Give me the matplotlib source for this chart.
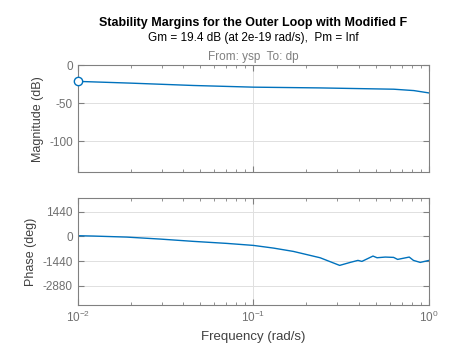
import numpy as np
import matplotlib.pyplot as plt
from matplotlib.ticker import LogLocator, NullFormatter

plt.rcParams['font.family'] = ['Liberation Sans', 'DejaVu Sans']
plt.rcParams['axes.unicode_minus'] = False

# magnitude response (dB)
w_mag = [0.01, 0.02, 0.0456, 0.1, 0.24, 0.63, 0.82, 1.0]
mag_db = [-21.4, -23.7, -26.8, -29.0, -30.0, -31.7, -33.5, -36.6]

# phase response (deg)
w_ph = [0.01, 0.0123, 0.019, 0.0294, 0.0456, 0.0706, 0.1, 0.13, 0.169, 0.24,
        0.31, 0.356, 0.394, 0.415, 0.48, 0.506, 0.564, 0.629, 0.663, 0.772,
        0.816, 0.892, 1.0]
phase = [40, 20, -40, -155, -290, -408, -525, -680, -875, -1245,
         -1690, -1516, -1399, -1457, -1146, -1244, -1205, -1224, -1341, -1205,
         -1399, -1516, -1399]

# gain margin point
gm_w = 0.01
gm_db = -21.4

blue = '#0072BD'
axc = '#808080'

fig = plt.figure(figsize=(4.74, 3.55), dpi=100)
ax1 = fig.add_axes([0.164, 0.5146, 0.741, 0.302])
ax2 = fig.add_axes([0.164, 0.1408, 0.741, 0.302])

ax1.semilogx(w_mag, mag_db, color=blue, lw=1)
ax1.plot(gm_w, gm_db, 'o', ms=6, mfc='white', mec=blue, mew=1, clip_on=False, zorder=5)
ax1.set_ylim(-141, 0)
ax1.set_yticks([0, -50, -100])
ax1.set_ylabel('Magnitude (dB)', color='#404040', fontsize=9)

ax2.semilogx(w_ph, phase, color=blue, lw=1)
ax2.set_ylim(-4000, 2250)
ax2.set_yticks([1440, 0, -1440, -2880])
ax2.set_ylabel('Phase (deg)', color='#404040', fontsize=9)
ax2.set_xlabel('Frequency (rad/s)', color='#404040', fontsize=9.5)

for ax in (ax1, ax2):
    ax.set_xlim(0.01, 1)
    ax.xaxis.set_major_locator(LogLocator(base=10, numticks=5))
    ax.xaxis.set_minor_locator(LogLocator(base=10, subs=np.arange(2, 10), numticks=20))
    ax.xaxis.set_minor_formatter(NullFormatter())
    ax.grid(True, which='major', color='#e0e0e0', lw=0.7)
    ax.tick_params(which='both', direction='in', top=True, right=True, colors=axc,
                   labelsize=8.5, labelcolor='#707070')
    ax.tick_params(which='major', length=4)
    ax.tick_params(which='minor', length=2)
    for s in ax.spines.values():
        s.set_color(axc)
        s.set_linewidth(0.8)
    ax.set_axisbelow(True)

ax1.tick_params(axis='x', labelbottom=False)

fig.text(0.534, 0.935, 'Stability Margins for the Outer Loop with Modified F',
         ha='center', va='center', fontsize=9, fontweight='bold')
fig.text(0.534, 0.893, 'Gm = 19.4 dB (at 2e-19 rad/s),  Pm = Inf',
         ha='center', va='center', fontsize=8.5)
fig.text(0.534, 0.84, 'From: ysp  To: dp', ha='center', va='center',
         fontsize=8.5, color='#808080')

fig.savefig('out.png', dpi=100)
